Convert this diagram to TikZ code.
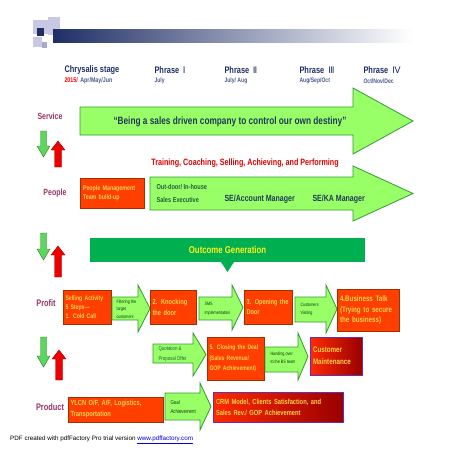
\documentclass[tikz,border=0pt]{standalone}
\usepackage{fontspec}
\setmainfont{Liberation Sans}[FakeStretch=0.78]
\newfontfamily\numfont{DejaVu Sans}
\newfontfamily\plainfont{Liberation Sans}
\definecolor{agreen}{HTML}{99FF66}
\definecolor{agreenedge}{HTML}{339933}
\definecolor{rbox}{HTML}{FF3F00}
\definecolor{rboxedge}{HTML}{A03000}
\definecolor{btext}{HTML}{FFD24D}
\definecolor{ogreen}{HTML}{00B050}
\definecolor{lblc}{HTML}{993366}
\definecolor{navyh}{HTML}{1F2F66}
\definecolor{navyl}{HTML}{4A5A88}
\definecolor{quotec}{HTML}{1F3A5A}
\definecolor{dgreen}{HTML}{1F5F3F}
\definecolor{smalltxt}{HTML}{0A3A0A}
\definecolor{purpedge}{HTML}{6A2CB0}
\definecolor{darkred}{HTML}{990000}
\definecolor{brred}{HTML}{FF2A00}
\definecolor{upred}{HTML}{EE0000}
\definecolor{downgreen}{HTML}{5CD65C}
\definecolor{pale}{HTML}{C8C8E2}
\definecolor{linkblue}{HTML}{0000EE}
\newcommand{\fs}[1]{\fontsize{#1}{#1}\selectfont}
\newcommand{\blkarrow}[8]{%
  \draw[#1] (#2,#5) -- (#3,#5) -- (#3,#7) -- (#4,{(#7+#8)/2}) -- (#3,#8) -- (#3,#6) -- (#2,#6) -- cycle;}
\newcommand{\downarr}[3]{%
  \draw[gdown] (#1-3,#2) -- (#1+3,#2) -- (#1+3,#3-11) -- (#1+6.5,#3-11) -- (#1,#3) -- (#1-6.5,#3-11) -- (#1-3,#3-11) -- cycle;}
\newcommand{\uparr}[3]{%
  \draw[rup] (#1-3.5,#2) -- (#1+3.5,#2) -- (#1+3.5,#3+9) -- (#1+7,#3+9) -- (#1,#3) -- (#1-7,#3+9) -- (#1-3.5,#3+9) -- cycle;}
\begin{document}
\begin{tikzpicture}[x=1pt,y=-1pt,
  garrow/.style={fill=agreen,draw=agreenedge,line width=0.8pt,line join=miter},
  gdown/.style={fill=downgreen,draw=agreenedge!80!black,line width=0.4pt},
  rup/.style={fill=upred,draw=darkred,line width=0.4pt},
  redbox/.style={fill=rbox,draw=rboxedge,line width=0.8pt,inner sep=2pt,align=left,text=btext,font=\bfseries},
  gradbox/.style={left color=brred,right color=darkred,draw=purpedge,line width=0.8pt,inner sep=3pt,align=left,text=btext,font=\bfseries},
  lbl/.style={text=lblc,font=\bfseries\fs{9.5}},
  hdr/.style={anchor=west,text=navyh,font=\bfseries\fs{9.5}},
  sub/.style={anchor=west,text=navyl,font=\bfseries\fs{6.5}},
  tiny/.style={anchor=west,align=left,text=smalltxt,font=\fs{4.8}}
]
\useasboundingbox (0,0) rectangle (452,452);
% header decoration
\fill[pale] (33,20) rectangle (48,34);
\fill[pale] (48,17) rectangle (60,35);
\fill[pale] (33,37) rectangle (42,47);
\fill[pale!80!navyh] (42,42) rectangle (47,48);
\shade[left color=navyh,right color=white,middle color=navyh!50] (53,30) rectangle (412,43);
\fill[navyh] (37,28) rectangle (44,36);
% header texts
\node[hdr] (h0) at (61,70) {Chrysalis stage};
\node[sub,font=\bfseries\fs{6.8}] (s0) at (61,81) {\textcolor{red}{2015/}\, Apr/May/Jun};
\node[hdr] (h1) at (151,70) {Phrase\, {\numfont\mdseries\fs{9}Ⅰ}};
\node[sub] (s1) at (151,81) {July};
\node[hdr] (h2) at (221,70) {Phrase\, {\numfont\mdseries\fs{9}Ⅱ}};
\node[sub] (s2) at (221,81) {July/ Aug};
\node[hdr] (h3) at (296,70) {Phrase\ \ {\numfont\mdseries\fs{9}Ⅲ}};
\node[sub] (s3) at (296,81) {Aug/Sep/Oct};
\node[hdr] (h4) at (360,70) {Phrase\ \ {\numfont\mdseries\fs{9}Ⅳ}};
\node[sub] (s4) at (360,81) {Oct/Nov/Dec};
% service row
\node[lbl,font=\bfseries\fs{9}] (service) at (50,116) {Service};
\blkarrow{garrow}{80}{353}{413}{107}{135}{88}{154}
\node[text=quotec,font=\bfseries\fs{10.6}] (quote) at (230,122) {“Being a sales driven company to control our own destiny”};
\downarr{43.5}{131}{157}
\uparr{58}{167}{141}
\node[text=red!85!black,font=\bfseries\fs{9.2}] (train) at (245,163) {Training, Coaching, Selling, Achieving, and Performing};
% people row
\node[lbl,font=\bfseries\fs{9}] (people) at (55,193) {People};
\node[redbox,minimum width=64,minimum height=30,text width=58,font=\bfseries\fs{6.8}] (pm) at (112,193) {People Management\\[2.2pt]Team build-up};
\blkarrow{garrow}{150}{353}{413}{177}{210}{166}{221}
\node[anchor=west,text=dgreen,font=\bfseries\fs{7.2}] (od) at (153,187) {Out-door/ In-house};
\node[anchor=west,text=dgreen,font=\bfseries\fs{7.2}] (se) at (153,199.5) {Sales Executive};
\node[anchor=west,text=quotec,font=\bfseries\fs{9}] (seam) at (221,199.5) {SE/Account Manager};
\node[anchor=west,text=quotec,font=\bfseries\fs{9}] (seka) at (309,199.5) {SE/KA Manager};
\downarr{43.5}{233}{260}
\uparr{58}{277}{246}
% outcome
\node[fill=ogreen,minimum width=275,minimum height=24,inner sep=0pt,text=yellow!90!white,font=\bfseries\fs{10}] (outcome) at (227.5,250) {Outcome Generation};
\fill[ogreen] (221,262) -- (234,262) -- (227.5,272) -- cycle;
% profit row 1
\node[lbl] (profit) at (46,303) {Profit};
\node[redbox,minimum width=48,minimum height=34,text width=43,font=\bfseries\fs{6.6}] (b1) at (87,307) {Selling Activity\\[2.4pt]5 Steps---\\[2.4pt]1. Cold Call};
\blkarrow{garrow}{112}{138}{150}{297}{320}{285}{332}
\node[tiny] (t1) at (113,309) {Filtering the\\[2.7pt]target\\[2.7pt]customers};
\node[redbox,minimum width=46,minimum height=34,text width=41,font=\bfseries\fs{7.4}] (b2) at (173,307) {2. Knocking\\[3.6pt]the door};
\blkarrow{garrow}{199}{232}{243}{297}{320}{285}{330}
\node[tiny] (t2) at (201,308.5) {SMS\\[4pt]Implementation};
\node[redbox,minimum width=48,minimum height=34,text width=43,font=\bfseries\fs{7.2}] (b3) at (268,307) {3. Opening the\\[2.8pt]Door};
\blkarrow{garrow}{295}{326}{337}{297}{322}{285}{333}
\node[tiny] (t3) at (297,309) {Customers\\[3pt]Visiting};
\node[redbox,minimum width=62,minimum height=42,text width=56,font=\bfseries\fs{8}] (b4) at (368,310) {4.Business Talk\\[2.5pt](Trying to secure\\[2.5pt]the business)};
% profit row 2
\downarr{43.5}{337}{367}
\uparr{59}{380}{350}
\blkarrow{garrow}{153}{193}{206}{344}{363}{333}{376}
\node[anchor=west,align=left,text=dgreen,font=\fs{5.6}] (t4) at (155,354) {Quotation \&\\[4.4pt]Proposal Offer};
\node[redbox,minimum width=57,minimum height=43,text width=52,font=\bfseries\fs{6.5}] (b5) at (235.5,358.5) {5. Closing the Deal\\[4pt](Sales Revenue/\\[4pt]GOP Achievement)};
\blkarrow{garrow}{265}{298}{308}{347}{372}{333}{380}
\node[tiny] (t5) at (267,358) {Handing over\\[3pt]to the BS team};
\node[gradbox,minimum width=52,minimum height=38,text width=46,font=\bfseries\fs{8}] (b6) at (336,356) {Customer\\[4pt]Maintenance};
% product row
\node[lbl] (product) at (50,407) {Product};
\node[redbox,minimum width=95,minimum height=25,text width=90,font=\bfseries\fs{7.4}] (b7) at (115.5,409.5) {YLCN O/F, A/F, Logistics,\\[3.5pt]Transportation};
\blkarrow{garrow}{165}{200}{211}{393}{420}{383}{430}
\node[anchor=west,align=left,text=smalltxt,font=\fs{5.6}] (t6) at (167,406.5) {Goal\\[3.4pt]Achievement};
\node[gradbox,minimum width=130,minimum height=30,text width=124,font=\bfseries\fs{7.4}] (b8) at (278,407) {CRM Model, Clients Satisfaction, and\\[3.5pt]Sales Rev./ GOP Achievement};
% footer
\node[anchor=west,inner sep=0pt,font=\plainfont\fs{6.3}] (footer) at (10,440) {PDF created with pdfFactory Pro trial version \textcolor{linkblue}{\underline{www.pdffactory.com}}};
\end{tikzpicture}
\end{document}
